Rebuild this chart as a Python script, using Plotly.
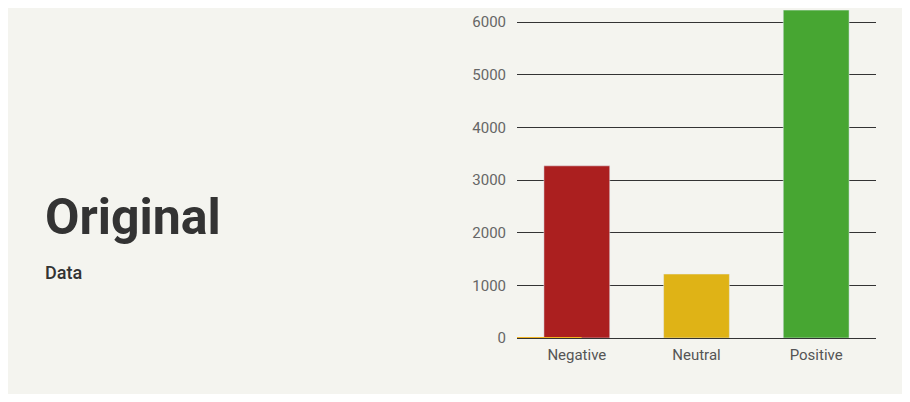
import plotly.graph_objects as go

categories = ["Negative", "Neutral", "Positive"]
counts = [3270, 1215, 6228]
colors = ["#ab1f1f", "#dfb316", "#47a632"]
tick_vals = [0, 1000, 2000, 3000, 4000, 5000, 6000]

fig = go.Figure()
fig.add_trace(go.Bar(x=categories, y=counts, marker_color=colors, width=0.55))
fig.add_shape(type="line", xref="paper", yref="y", x0=0, x1=0.18, y0=0, y1=0,
              line=dict(color="#f0b323", width=2))
fig.update_layout(
    width=894, height=386,
    paper_bgcolor="#f4f4ef", plot_bgcolor="#f4f4ef",
    margin=dict(l=509, r=26, t=2, b=56),
    showlegend=False,
    font=dict(family="Roboto", color="#666"),
    xaxis=dict(showgrid=False, showline=False, tickfont=dict(size=15, color="#555"),
               ticks="", ticklabelstandoff=6),
    yaxis=dict(range=[0, 6230], tickvals=tick_vals, gridcolor="#333", gridwidth=1,
               zeroline=True, zerolinecolor="#333", zerolinewidth=1,
               tickfont=dict(size=15, color="#666"), ticklabelstandoff=10),
    annotations=[
        dict(text="<b>Original</b>", xref="paper", yref="paper", x=-1.32, y=0.37,
             xanchor="left", yanchor="middle", showarrow=False,
             font=dict(size=50, color="#333", family="Roboto")),
        dict(text="Data", xref="paper", yref="paper", x=-1.32, y=0.2,
             xanchor="left", yanchor="middle", showarrow=False,
             font=dict(size=18, color="#333", family="Roboto Medium, Roboto")),
    ],
)
fig.write_html("out.html")
